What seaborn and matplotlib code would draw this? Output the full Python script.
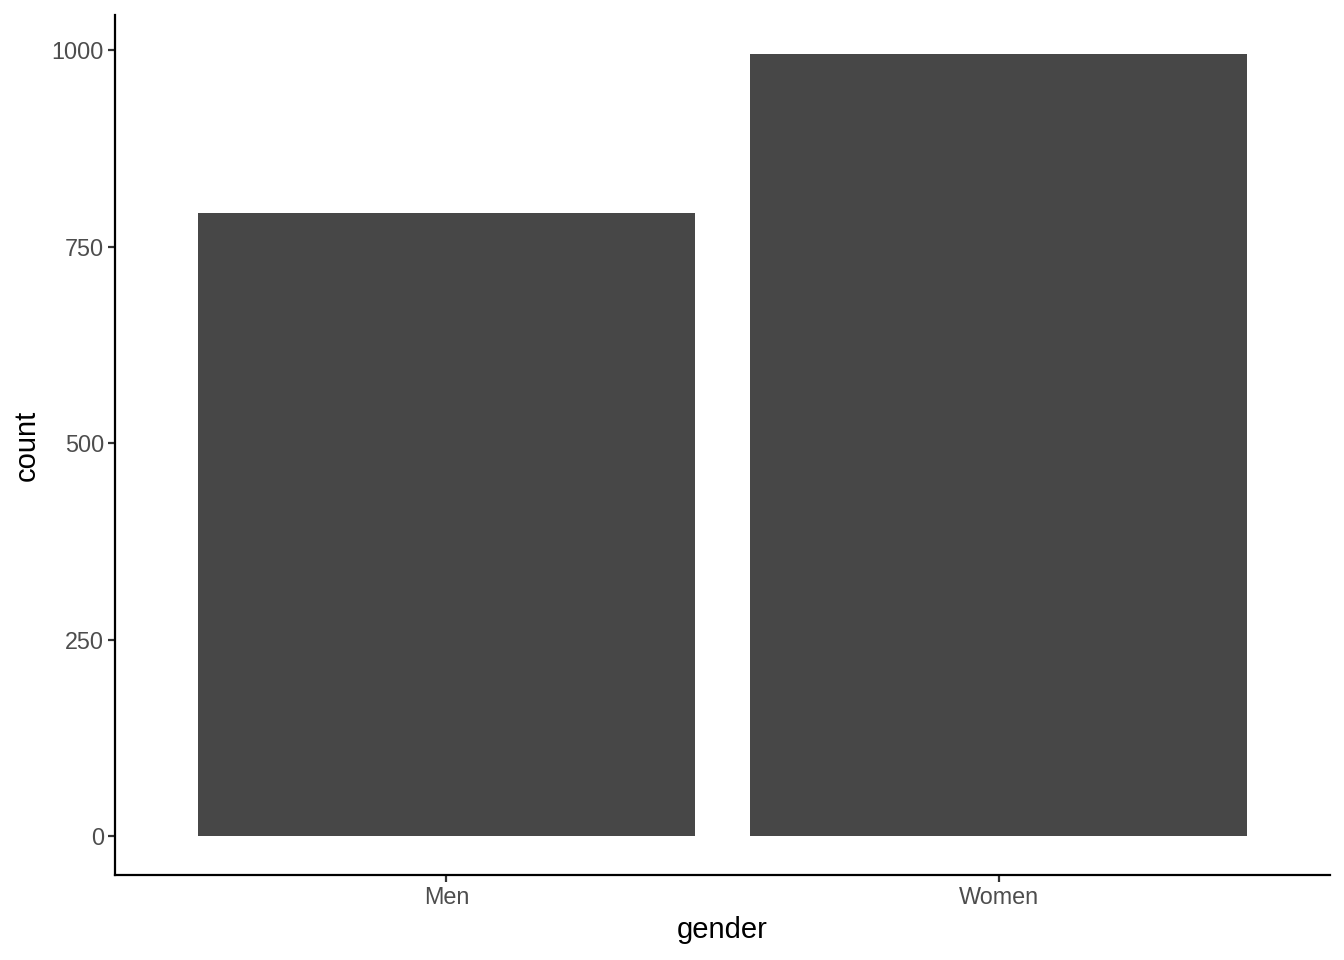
import matplotlib
matplotlib.use("Agg")
import matplotlib.pyplot as plt
import seaborn as sns
import pandas as pd

genders = ["Men", "Women"]
counts = [792, 995]
y_ticks = [0, 250, 500, 750, 1000]

df = pd.DataFrame({"gender": genders, "count": counts})

sns.set_theme(style="ticks")
plt.rcParams["font.family"] = ["Liberation Sans", "DejaVu Sans"]

fig = plt.figure(figsize=(13.44, 9.6), dpi=100)
# panel in pixels: left 115, right 1330, top 15, bottom 875
ax = fig.add_axes([115 / 1344, 1 - 875 / 960, 1215 / 1344, 860 / 960])

sns.barplot(data=df, x="gender", y="count", color="#474747", width=0.9,
            saturation=1, linewidth=0, ax=ax)

ax.set_xlim(-0.6, 1.6)
ax.set_ylim(-49.5, 1044.5)
ax.set_yticks(y_ticks)
ax.set_yticklabels([str(v) for v in y_ticks])

for side in ["top", "right"]:
    ax.spines[side].set_visible(False)
for side in ["left", "bottom"]:
    ax.spines[side].set_linewidth(1.6)
    ax.spines[side].set_color("black")

ax.tick_params(axis="both", length=5, width=1.6, color="#333333",
               labelsize=16.8, labelcolor="#4D4D4D", pad=3)
ax.set_xlabel("gender", fontsize=21, color="black", labelpad=5)
ax.set_ylabel("count", fontsize=21, color="black", labelpad=8)

fig.savefig("out.png", dpi=100)
